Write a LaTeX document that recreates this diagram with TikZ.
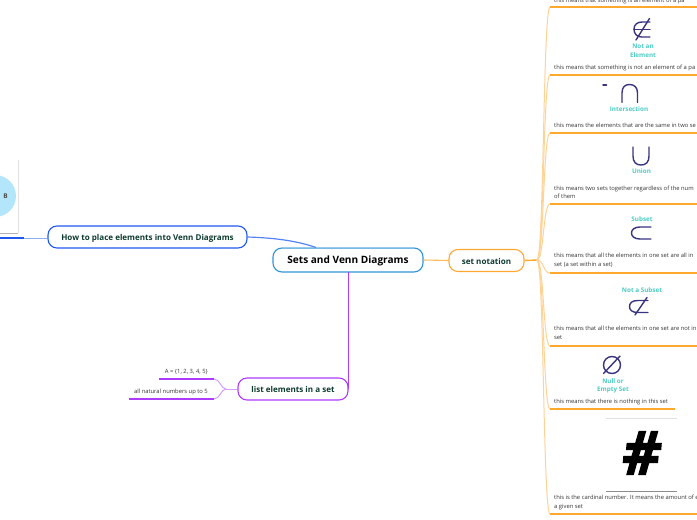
\documentclass[tikz,border=0pt]{standalone}
\usepackage{fontspec}
\setmainfont{Open Sans}
\newfontfamily\notefont{Open Sans}[WordSpace=0.72]
\newfontfamily\hashfont{Open Sans}[BoldItalicFeatures={FakeBold=2}]
\usetikzlibrary{positioning,calc}
\definecolor{inkgreen}{HTML}{0E3B2E}
\definecolor{rootblue}{HTML}{2F93D8}
\definecolor{placeblue}{HTML}{1F58F0}
\definecolor{setorange}{HTML}{FFA82E}
\definecolor{listpurple}{HTML}{AE3BFF}
\definecolor{symbolink}{HTML}{38347F}
\definecolor{labelteal}{HTML}{4CCBC2}
\tikzset{rootnode/.style={draw=rootblue,line width=1.1pt,rounded corners=9pt,minimum width=150pt,minimum height=24pt,inner sep=0pt,text height=9pt,text depth=1.5pt,font=\fontsize{10.1}{11}\selectfont\bfseries}}
\tikzset{topic/.style={line width=1.1pt,rounded corners=9pt,minimum height=22pt,inner sep=0pt,text height=8pt,text depth=1pt,text=inkgreen,font=\fontsize{8.05}{9}\selectfont\bfseries}}
\tikzset{note/.style={anchor=west,inner sep=0pt,align=left,text=black!80,font=\notefont\fontsize{5.82}{8.6}\selectfont}}
\tikzset{sidenote/.style={anchor=east,inner sep=0pt,text=black!80,font=\notefont\fontsize{5.82}{7}\selectfont}}
\tikzset{tag/.style={inner sep=0pt,align=center,text=labelteal,font=\fontsize{6.3}{8.2}\selectfont\bfseries}}
\tikzset{symbol/.style={draw=symbolink,line width=1.4pt,line cap=round}}
\tikzset{leaf/.style={setorange,line width=1.3pt}}
\tikzset{branch/.style={setorange!50,line width=1pt}}
\begin{document}
\begin{tikzpicture}[x=1pt,y=-1pt]
  \useasboundingbox (0,0) rectangle (697,520);
  \clip (0,0) rectangle (697,520);

  % Main topics
  \node[rootnode] (root) at (348,260) {Sets and Venn Diagrams};
  \node[topic,draw=placeblue,minimum width=199pt] (place) at (147.5,237) {How to place elements into Venn Diagrams};
  \node[topic,draw=setorange,minimum width=75pt] (notation) at (486.5,260.5) {set notation};
  \node[topic,draw=listpurple,minimum width=110pt] (list) at (293,389) {list elements in a set};
  \draw[rootblue!50,line width=1.1pt] ([xshift=9pt]root.north west) -- ([xshift=-9pt]root.north east);

  % Venn picture, cut by the page
  \fill[cyan!30] (-5,196) circle (21);
  \node[inner sep=0pt,text=black!70,font=\fontsize{6.5}{8}\selectfont\bfseries] (setb) at (5.5,196) {B};
  \draw[black!12,line width=0.8pt] (18,160) -- (18,233);
  \draw[black!30,line width=0.8pt] (0,233) -- (18,233);

  % Connectors from the root
  \coordinate (placeend) at (0,238);
  \coordinate (placekink) at (24,238);
  \draw[placeblue!50,line width=1pt] (place.west |- placekink) -- (placekink);
  \draw[placeblue,line width=1.6pt] (placekink) -- (placeend);
  \draw[placeblue!75,line width=1.2pt] (place.east) .. controls (280,238) and (300,242) .. (316,247.5);
  \draw[setorange!80,line width=1.1pt] (root.east) -- (notation.west);
  \draw[listpurple,line width=1.9pt] (348.5,272) -- (348.5,389);

  % List elements
  \coordinate (listfork) at (226,389);
  \coordinate (listone) at (214,379);
  \coordinate (listtwo) at (214,399);
  \draw[listpurple!50,line width=1pt] (list.west) -- (listfork);
  \draw[listpurple!50,line width=1pt] (listfork) .. controls (221,389) and (220,379) .. (listone);
  \draw[listpurple!50,line width=1pt] (listfork) .. controls (221,389) and (220,399) .. (listtwo);
  \draw[listpurple,line width=1.7pt] (listone) -- (159,379);
  \draw[listpurple,line width=1.7pt] (listtwo) -- (129,399);
  \node[sidenote] (listset) at (208,371.7) {A = \{1, 2, 3, 4, 5\}};
  \node[sidenote] (listtext) at (208,391.7) {all natural numbers up to 5};

  % Set notation leaves
  \coordinate (fork) at (537,260);
  \draw[setorange,line width=1.4pt] (notation.east) -- (fork);
  \foreach \i/\yy/\xend in {a/7/697,b/75/697,c/133/697,d/204/697,e/273/697,f/346/697,g/409/675,h/514/697}{
    \coordinate (lead\i) at (550,\yy);
    \draw[branch] (fork) .. controls (544,260) and (543,\yy) .. (lead\i);
    \draw[leaf] (lead\i) -- (\xend,\yy);
  }

  % Leaf texts
  \node[note] (texta) at (554,1) {this means that something is an element of a pa};
  \node[note] (textb) at (554,67.7) {this means that something is not an element of a pa};
  \node[note] (textc) at (554,125.3) {this means the elements that are the same in two se};
  \node[note,anchor=north west] (textd) at (554,185.5) {this means two sets together regardless of the num\\of them};
  \node[note,anchor=north west] (texte) at (554,252.8) {this means that all the elements in one set are all in\\set (a set within a set)};
  \node[note,anchor=north west] (textf) at (554,326.3) {this means that all the elements in one set are not in\\set};
  \node[note] (textg) at (554,401.7) {this means that there is nothing in this set};
  \node[note,anchor=north west] (texth) at (554,494.8) {this is the cardinal number. It means the amount of e\\a given set};

  % Symbols with their tags
  \draw[symbol] (650,22) -- (642,22) .. controls (637,22) and (634,25) .. (634,29) .. controls (634,34) and (637,37) .. (642,37) -- (650,37);
  \draw[symbol] (634,29.5) -- (650,29.5);
  \draw[symbol] (649.5,18.5) -- (636,40);
  \node[tag] (tagb) at (643,50.7) {Not an\\Element};

  \draw[symbol] (603,85) -- (606.5,85);
  \draw[symbol] (622,102.5) -- (622,93) .. controls (622,87) and (625,84.5) .. (629.5,84.5) .. controls (634,84.5) and (637.5,87) .. (637.5,93) -- (637.5,102.5);
  \node[tag] (tagc) at (629,109) {Intersection};

  \draw[symbol] (633,147) -- (633,156) .. controls (633,162) and (636,165) .. (641,165) .. controls (646,165) and (649,162) .. (649,156) -- (649,147);
  \node[tag] (tagd) at (641.5,171.5) {Union};

  \node[tag] (tage) at (642,218.8) {Subset};
  \draw[symbol] (651,227) -- (640,227) .. controls (634,227) and (631.5,230) .. (631.5,233) .. controls (631.5,236) and (634,239) .. (640,239) -- (651,239);

  \node[tag] (tagf) at (642,290) {Not a Subset};
  \draw[symbol] (648,300.5) -- (638,300.5) .. controls (632,300.5) and (629.5,303) .. (629.5,306.5) .. controls (629.5,310) and (632,312.5) .. (638,312.5) -- (648,312.5);
  \draw[symbol] (647,297.5) -- (635,315);

  \draw[symbol] (612,365) circle (8.5);
  \draw[symbol] (620,356) -- (603.5,373.5);
  \node[tag] (tagg) at (613,386) {Null or\\Empty Set};

  % Cardinal number
  \draw[black!12,line width=0.8pt] (606,418) -- (677,418);
  \draw[black!45,line width=1.2pt] (606,491.7) -- (677,491.7);
  \node[inner sep=0pt,font=\hashfont\fontsize{60}{60}\selectfont\bfseries\itshape] (hash) at (641.5,453) {\#};
\end{tikzpicture}
\end{document}
